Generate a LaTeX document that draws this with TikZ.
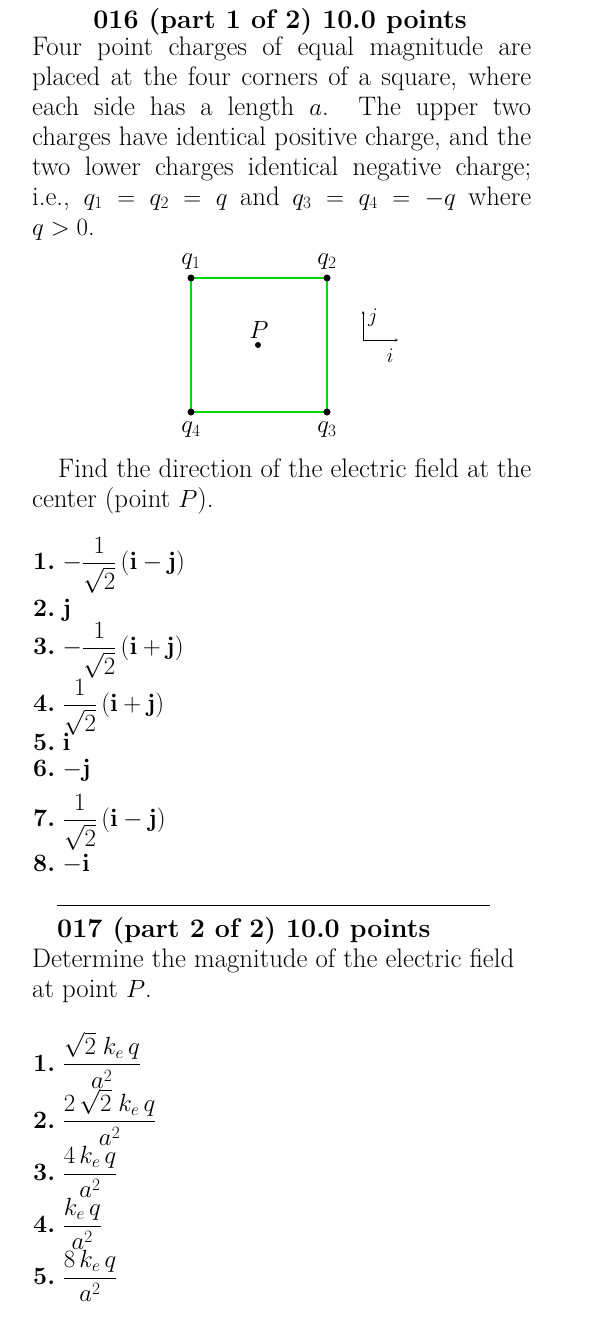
\documentclass[tikz,border=0pt]{standalone}
\usepackage{amsmath}
\begin{document}
\begin{tikzpicture}[x=1pt,y=-1pt,
  txt/.style={anchor=base west,inner sep=0pt,font=\fontsize{26.8}{30}\selectfont},
  ans/.style={anchor=west,inner sep=0pt,font=\fontsize{25}{28}\selectfont},
  dotc/.style={circle,fill=black,inner sep=0pt,minimum size=7pt},
  lab/.style={inner sep=0pt,font=\fontsize{24}{26}\selectfont}]
\useasboundingbox (0,0) rectangle (602,1328);
\node[txt,anchor=base] (t1) at (280,28) {\bfseries 016 (part 1 of 2) 10.0 points};
\node[anchor=north west,inner sep=0pt,text width=499pt,align=justify,font=\fontsize{26.8}{30}\selectfont] (p1) at (32,36)
{Four point charges of equal magnitude are\linebreak placed at the four corners of a square, where\linebreak each side has a length $a$.\ \ The upper two\linebreak charges have identical positive charge, and the\linebreak two lower charges identical negative charge;\linebreak i.e., $q_1=q_2=q$ and $q_3=q_4=-q$ where\linebreak $q>0$.};
% square
\coordinate (c1) at (191,278);
\coordinate (c2) at (327,278);
\coordinate (c3) at (327,412);
\coordinate (c4) at (191,412);
\draw[green!85!black,line width=1.2pt] (c1) -- (c2) -- (c3) -- (c4) -- cycle;
\foreach \c in {c1,c2,c3,c4} \node[dotc] at (\c) {};
\node[lab] (q1) at (191,262) {$q_1$};
\node[lab] (q2) at (327,262) {$q_2$};
\node[lab] (q4) at (191,430) {$q_4$};
\node[lab] (q3) at (327,430) {$q_3$};
\node[lab] (P) at (259,330) {$P$};
\node[dotc,minimum size=6pt] (pd) at (258,345) {};
\coordinate (o) at (363,340);
\coordinate (jy) at (363,311);
\coordinate (ix) at (398,340);
\draw[-stealth] (o) -- (jy);
\draw[-stealth] (o) -- (ix);
\node[lab,font=\fontsize{20}{22}\selectfont] (jl) at (373,318) {$j$};
\node[lab,font=\fontsize{20}{22}\selectfont] (il) at (390,356) {$i$};
\node[txt] (f1) at (58,477) {Find the direction of the electric field at the};
\node[txt] (f2) at (32,507) {center (point $P$).};
% answers part 1
\node[ans] (a1) at (33,565) {\textbf{1.}\ $-\dfrac{1}{\sqrt2}\,(\mathbf i-\mathbf j)$};
\node[ans] (a2) at (33,610) {\textbf{2.}\ $\mathbf j$};
\node[ans] (a3) at (33,650) {\textbf{3.}\ $-\dfrac{1}{\sqrt2}\,(\mathbf i+\mathbf j)$};
\node[ans] (a4) at (33,707) {\textbf{4.}\ $\dfrac{1}{\sqrt2}\,(\mathbf i+\mathbf j)$};
\node[ans] (a5) at (33,742) {\textbf{5.}\ $\mathbf i$};
\node[ans] (a6) at (33,770) {\textbf{6.}\ $-\mathbf j$};
\node[ans] (a7) at (33,822) {\textbf{7.}\ $\dfrac{1}{\sqrt2}\,(\mathbf i-\mathbf j)$};
\node[ans] (a8) at (33,864) {\textbf{8.}\ $-\mathbf i$};
\coordinate (r1) at (57,905);
\coordinate (r2) at (490,905);
\draw[line width=1pt] (r1) -- (r2);
\node[txt] (t2) at (57,937) {\bfseries 017 (part 2 of 2) 10.0 points};
\node[txt] (g1) at (32,967) {Determine the magnitude of the electric field};
\node[txt] (g2) at (32,997) {at point $P$.};
\node[ans] (b1) at (33,1060) {\textbf{1.}\ $\dfrac{\sqrt2\;k_e\,q}{a^2}$};
\node[ans] (b2) at (33,1117) {\textbf{2.}\ $\dfrac{2\,\sqrt2\;k_e\,q}{a^2}$};
\node[ans] (b3) at (33,1172) {\textbf{3.}\ $\dfrac{4\,k_e\,q}{a^2}$};
\node[ans] (b4) at (33,1224) {\textbf{4.}\ $\dfrac{k_e\,q}{a^2}$};
\node[ans] (b5) at (33,1276) {\textbf{5.}\ $\dfrac{8\,k_e\,q}{a^2}$};
\end{tikzpicture}
\end{document}
